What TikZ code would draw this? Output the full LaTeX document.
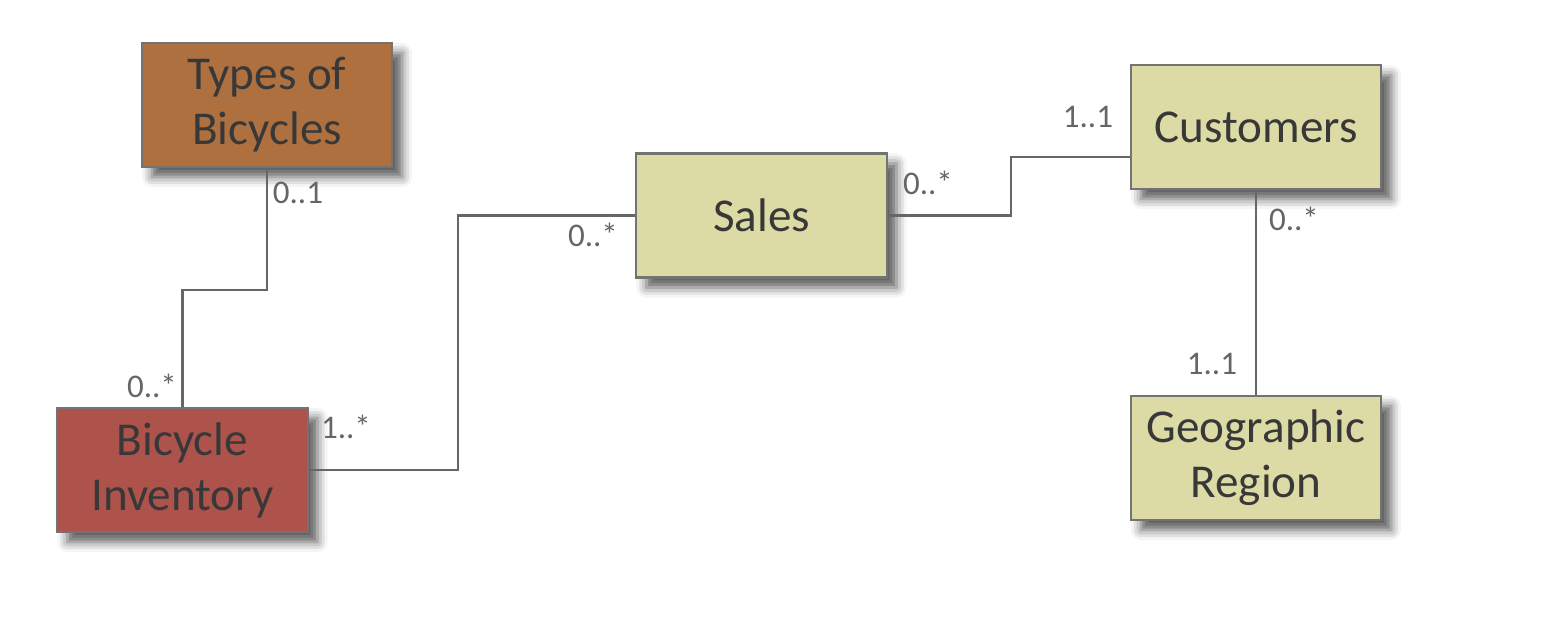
\documentclass[tikz,border=0pt]{standalone}
\usepackage{fontspec}
\setmainfont{Carlito}
\usetikzlibrary{shadows.blur}
\definecolor{brownbox}{HTML}{AF7040}
\definecolor{redbox}{HTML}{AE524C}
\definecolor{olivebox}{HTML}{DDDBA5}
\begin{document}
\begin{tikzpicture}[x=0.01cm,y=-0.01cm]
          \tikzstyle{entity}=[rectangle,draw=black!55,line width=0.6pt,minimum width=2.5cm,minimum height=1.24cm,inner sep=0pt,align=center,text=black!78,font=\fontsize{13.4}{15.6}\selectfont,blur shadow={shadow xshift=0.1cm,shadow yshift=-0.1cm,shadow blur radius=0.1cm,shadow opacity=65}]
          \tikzstyle{link}=[draw=black!60,line width=0.6pt]
          \tikzstyle{mult}=[inner sep=0pt,text=black!60,font=\fontsize{9.4}{11}\selectfont]
          \useasboundingbox (0,0) rectangle (1568,626);
          \begin{scope}
              \node [entity,fill=brownbox] (types) at (267,105) {Types of\\Bicycles};
              \node [entity,fill=redbox] (inventory) at (182.5,470) {Bicycle\\Inventory};
              \node [entity,fill=olivebox] (sales) at (761.5,215.5) {Sales};
              \node [entity,fill=olivebox] (customers) at (1256,127) {Customers};
              \node [entity,fill=olivebox] (region) at (1256,458) {Geographic\\Region};
              \path[link] (types.south) -- ++(0,122) -| (inventory.north);
              \path[link] (inventory.east) -- ++(149,0) |- (sales.west);
              \path[link] (sales.east) -- ++(123,0) |- ([yshift=-0.3cm]customers.west);
              \path[link] (customers.south) -- (region.north);
              \node [mult] (m1) at (298,193) {0..1};
              \node [mult] (m2) at (152,386) {0..*};
              \node [mult] (m3) at (346,427) {1..*};
              \node [mult] (m4) at (593,235) {0..*};
              \node [mult] (m5) at (928,183) {0..*};
              \node [mult] (m6) at (1088,117) {1..1};
              \node [mult] (m7) at (1294,219) {0..*};
              \node [mult] (m8) at (1212,364) {1..1};
          \end{scope}
        \end{tikzpicture}
\end{document}
